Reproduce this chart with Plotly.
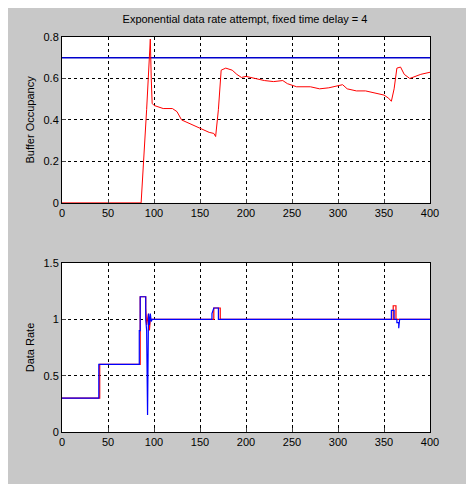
import plotly.graph_objects as go
from plotly.subplots import make_subplots

buf_x = [0,86,92,94,96,97,98,100,110,120,125,130,140,150,160,165,167,170,173,178,185,190,195,200,210,220,230,240,245,255,270,280,290,300,305,310,320,330,340,350,355,358,361,364,368,372,378,385,390,400]
buf_y = [0,0,0.45,0.6,0.79,0.6,0.48,0.47,0.455,0.455,0.44,0.4,0.38,0.36,0.34,0.335,0.32,0.45,0.64,0.65,0.64,0.62,0.605,0.61,0.6,0.59,0.585,0.59,0.575,0.56,0.56,0.55,0.555,0.565,0.57,0.55,0.54,0.54,0.53,0.52,0.505,0.49,0.55,0.65,0.655,0.62,0.6,0.61,0.62,0.63]
thr_x = [0,400]
thr_y = [0.7,0.7]

rate_blue_x = [0,40,40,84,84,85,85,91,91,92,93,94,95,96,97,98,163,163,165,170,170,358,358,361,361,364,364,366,366,367,400]
rate_blue_y = [0.3,0.3,0.6,0.6,0.9,0.9,1.2,1.2,1.0,0.9,0.15,1.05,0.95,1.05,0.98,1.0,1.0,1.05,1.1,1.1,1.0,1.0,1.08,1.08,1.0,1.0,0.97,0.97,0.92,1.0,1.0]
rate_red_x = [0,41,41,85,85,91,91,92,94,95,96,97,165,165,172,172,360,360,363,363,400]
rate_red_y = [0.3,0.3,0.6,0.6,1.2,1.2,1.1,0.95,1.05,0.9,1.0,1.0,1.0,1.1,1.1,1.0,1.0,1.12,1.12,1.0,1.0]

fig = make_subplots(rows=2, cols=1, vertical_spacing=0.0)
fig.add_trace(go.Scatter(x=thr_x, y=thr_y, mode="lines", line=dict(color="#0000cc", width=1.5)), 1, 1)
fig.add_trace(go.Scatter(x=buf_x, y=buf_y, mode="lines", line=dict(color="#ff0000", width=1)), 1, 1)
fig.add_trace(go.Scatter(x=rate_red_x, y=rate_red_y, mode="lines", line=dict(color="#ff0000", width=1.2)), 2, 1)
fig.add_trace(go.Scatter(x=rate_blue_x, y=rate_blue_y, mode="lines", line=dict(color="#0000ff", width=1.2)), 2, 1)

ax = dict(showline=True, linecolor="black", mirror=True, showgrid=True, gridcolor="black",
          griddash="dot", gridwidth=1, zeroline=False, ticks="inside", ticklen=4, automargin=False,
          tickfont=dict(size=11, color="black", family="Arial"))
fig.update_xaxes(range=[0,400], dtick=50, **ax)
fig.update_xaxes(domain=[0,1])
fig.update_yaxes(**ax)
fig.update_yaxes(range=[0,0.8], tickvals=[0,0.2,0.4,0.6,0.8], ticktext=["0","0.2","0.4","0.6","0.8"], domain=[0.58,1.0], row=1, col=1,
                 title=dict(text="Buffer Occupancy", font=dict(size=11, family="Arial", color="black"), standoff=6))
fig.update_yaxes(range=[0,1.5], tickvals=[0,0.5,1,1.5], ticktext=["0","0.5","1","1.5"], domain=[0,0.428], row=2, col=1,
                 title=dict(text="Data Rate", font=dict(size=11, family="Arial", color="black"), standoff=6))
fig.update_layout(width=474, height=484, showlegend=False,
                  paper_bgcolor="#c8c8c8", plot_bgcolor="white",
                  margin=dict(l=54, r=52, t=29, b=60),
                  title=dict(text="Exponential data rate attempt, fixed time delay = 4", x=0.5, y=0.985,
                             xanchor="center", font=dict(size=11, family="Arial", color="black")))
fig.write_html("out.html")
